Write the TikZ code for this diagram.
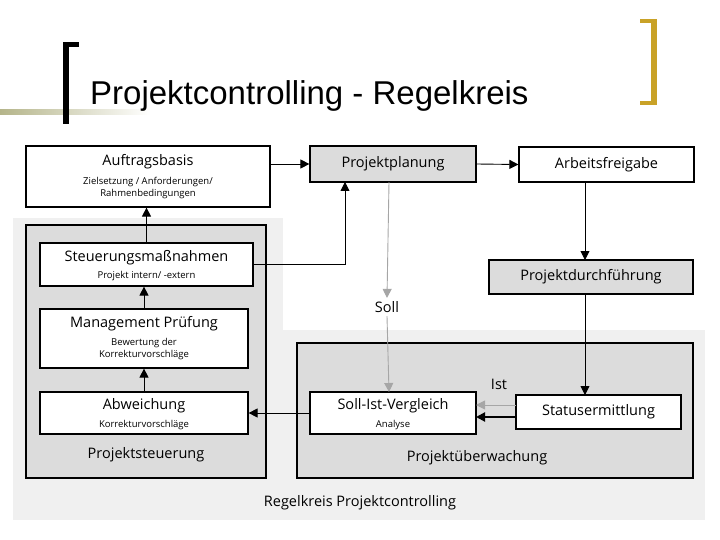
\documentclass[tikz,border=0pt]{standalone}
\usepackage{fontspec}
\setmainfont{Open Sans}
\newfontfamily\titlefont{Liberation Sans}
\usetikzlibrary{arrows.meta}
\definecolor{bgl}{HTML}{F0F0F0}
\definecolor{boxg}{HTML}{DCDCDC}
\definecolor{gold}{HTML}{C9A227}
\definecolor{olive}{HTML}{B5B58A}
\begin{document}
\begin{tikzpicture}[x=1pt,y=-1pt,
 box/.style={draw,line width=1.2pt,fill=white,inner sep=0pt},
 gbox/.style={box,fill=boxg},
 ar/.style={-{Triangle[length=9pt,width=9pt]},line width=0.9pt},
 gar/.style={ar,draw=gray!70},
 mt/.style={font=\fontsize{14.5}{16}\selectfont},
 st/.style={font=\fontsize{9.5}{12}\selectfont}]
\useasboundingbox (0,0) rectangle (720,540);
% title
\shade[left color=olive,right color=white] (0,110) rectangle (150,115);
\fill (63,42) rectangle (69,124);
\fill (63,42) rectangle (79,47);
\fill[gold] (651,19) rectangle (657,105);
\fill[gold] (640,19) rectangle (657,23);
\fill[gold] (640,101) rectangle (657,105);
\node[anchor=base west,font=\titlefont\fontsize{33}{36}\selectfont,inner sep=0pt] (title) at (90,105) {Projektcontrolling - Regelkreis};
% backgrounds
\fill[bgl] (13,218) rectangle (283,520);
\fill[bgl] (13,330) rectangle (705,520);
\draw[gbox] (26,225) rectangle (266,478);
\draw[gbox] (297,343) rectangle (693,478);
\node[mt] (lps) at (146,455) {Projektsteuerung};
\node[mt] (lpu) at (477,458) {Projektüberwachung};
\node[mt] (lrk) at (360,503) {Regelkreis Projektcontrolling};
% boxes
\node[box,minimum width=244pt,minimum height=61pt] (auf) at (148,176.5) {};
\node[mt] at (148,162) {Auftragsbasis};
\node[st,align=center] at (148,188) {Zielsetzung / Anforderungen/\\Rahmenbedingungen};
\node[gbox,mt,minimum width=166pt,minimum height=36pt] (pp) at (393,164) {Projektplanung};
\node[box,mt,minimum width=175pt,minimum height=35pt] (af) at (606.5,164.5) {Arbeitsfreigabe};
\node[gbox,mt,minimum width=204pt,minimum height=34pt] (pd) at (591,277) {Projektdurchführung};
\node[box,minimum width=213pt,minimum height=43pt] (stm) at (146.5,264.5) {};
\node[mt] at (146.5,258) {Steuerungsmaßnahmen};
\node[st] at (146.5,276) {Projekt intern/ -extern};
\node[box,minimum width=208pt,minimum height=59pt] (mp) at (144,338.5) {};
\node[mt] at (144,324) {Management Prüfung};
\node[st,align=center] at (144,349) {Bewertung der\\Korrekturvorschläge};
\node[box,minimum width=208pt,minimum height=42pt] (abw) at (144,413) {};
\node[mt] at (144,406) {Abweichung};
\node[st] at (144,425) {Korrekturvorschläge};
\node[box,minimum width=166pt,minimum height=42pt] (siv) at (393,413) {};
\node[mt] at (393,406) {Soll-Ist-Vergleich};
\node[st] at (393,425) {Analyse};
\node[box,mt,minimum width=165pt,minimum height=34pt] (sem) at (598.5,412) {Statusermittlung};
\node[mt] (soll) at (387,307) {Soll};
\node[mt] (ist) at (499,384) {Ist};
% arrows
\coordinate (a1) at (270,164);
\coordinate (a2) at (585,182);
\coordinate (a3) at (585,260);
\coordinate (a4) at (585,294);
\coordinate (a5) at (585,395);
\coordinate (a6) at (345,264.5);
\coordinate (a7) at (345,182);
\coordinate (s1) at (389,182);
\coordinate (s2) at (389,392);
\coordinate (i1) at (516,405);
\coordinate (i2) at (476,405);
\coordinate (i3) at (516,417);
\coordinate (i4) at (476,417);
\draw[ar] (a1) -- (pp.west);
\draw[ar] (pp.east) -- (af.west);
\draw[ar] (a2) -- (a3);
\draw[ar] (a4) -- (a5);
\draw[ar] (stm.east) -- (a6) -- (a7);
\draw[ar] (stm.north) -- (auf.south -| stm.north);
\draw[ar] (mp.north) -- (stm.south -| mp.north);
\draw[ar] (abw.north) -- (mp.south);
\draw[ar] (siv.west) -- (abw.east);
\draw[gar] (s1) -- (soll.north);
\draw[gar] (soll.south) -- (s2);
\draw[gar] (i1) -- (i2);
\draw[ar,line width=2pt] (i3) -- (i4);
\end{tikzpicture}
\end{document}
